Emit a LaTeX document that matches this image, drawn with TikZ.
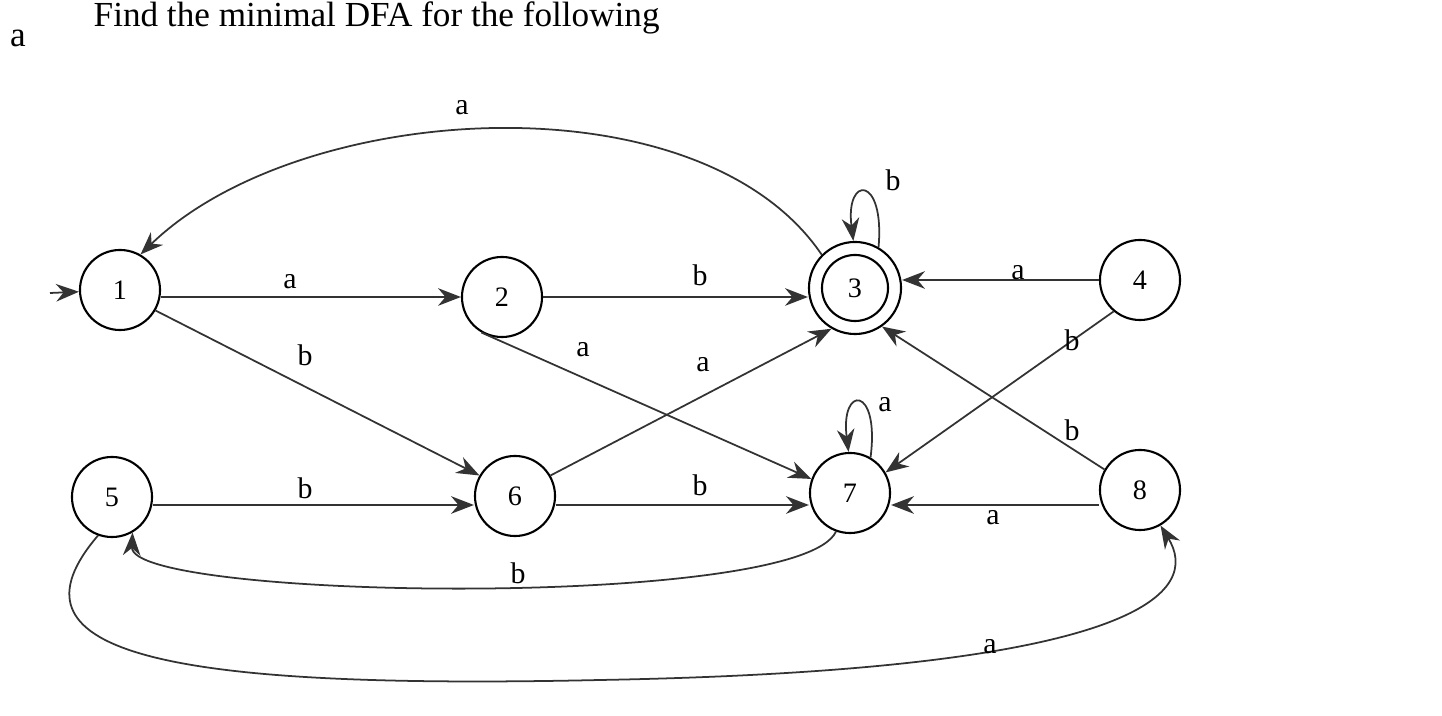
\documentclass[tikz,border=0pt]{standalone}
\usepackage{fontspec}
\setmainfont{Liberation Serif}
\usetikzlibrary{arrows.meta}
\begin{document}
\begin{tikzpicture}[x=0.01cm,y=-0.01cm,
  st/.style={circle,draw,line width=0.6pt,minimum size=0.8cm,inner sep=0pt,font=\fontsize{8}{9}\selectfont},
  ed/.style={draw,black!80,line width=0.5pt,-{Stealth[length=6.5pt,width=5pt]}},
  lb/.style={font=\fontsize{8.5}{10}\selectfont}]
\useasboundingbox (0,0) rectangle (1442,716);
\node[anchor=west,inner sep=0pt,font=\fontsize{10}{12}\selectfont] (title) at (93,18) {Find the minimal DFA for the following};
\node[font=\fontsize{10}{12}\selectfont] (lab) at (18,38) {a};
\node[st] (s1) at (120,290) {1};
\node[st] (s2) at (502,297) {2};
\node[st,minimum size=0.66cm] (s3) at (855,288) {3};
\node[circle,draw,line width=0.6pt,minimum size=0.92cm,inner sep=0pt] (s3o) at (855,288) {};
\node[st] (s4) at (1140,280) {4};
\node[st] (s5) at (112,497) {5};
\node[st] (s6) at (515,496) {6};
\node[st] (s7) at (850,493) {7};
\node[st] (s8) at (1140,490) {8};
\coordinate (st0) at (50,293);
\draw[ed] (st0) -- (s1);
\draw[ed] (s3o.135) .. controls (700,75) and (300,100) .. (s1.60);
\draw[ed] (s1.east |- 0,297) -- (s2.west |- 0,297);
\draw[ed] (s2.east) -- (s3o.west |- s2.east);
\draw[ed] (s3o.60) .. controls (885,175) and (845,175) .. (s3o.92);
\draw[ed] (s4.west) -- (s3o.east |- s4.west);
\draw[ed] (s1.-30) -- (s6.150);
\draw[ed] (s2.-120) -- (s7.160);
\draw[ed] (s6.30) -- (s3o.-120);
\draw[ed] (s4.-130) -- (s7.30);
\draw[ed] (s8.150) -- (s3o.-55);
\draw[ed] (s7.60) .. controls (880,385) and (840,385) .. (s7.92);
\draw[ed] (s5.east |- 0,505) -- (s6.west |- 0,505);
\draw[ed] (s6.east |- 0,505) -- (s7.west |- 0,505);
\draw[ed] (s8.west |- 0,505) -- (s7.east |- 0,505);
\draw[ed] (s7.-110) .. controls (800,610) and (130,600) .. (s5.-60);
\draw[ed] (s5.-110) .. controls (0,650) and (150,690) .. (600,680) .. controls (1150,670) and (1200,590) .. (s8.-60);
\node[lb] (l1) at (462,108) {a};
\node[lb] (l2) at (290,282) {a};
\node[lb] (l3) at (700,275) {b};
\node[lb] (l4) at (893,180) {b};
\node[lb] (l5) at (1018,273) {a};
\node[lb] (l6) at (305,355) {b};
\node[lb] (l7) at (583,350) {a};
\node[lb] (l8) at (703,365) {a};
\node[lb] (l9) at (1072,340) {b};
\node[lb] (l10) at (1072,430) {b};
\node[lb] (l11) at (885,405) {a};
\node[lb] (l12) at (305,488) {b};
\node[lb] (l13) at (700,485) {b};
\node[lb] (l14) at (993,518) {a};
\node[lb] (l15) at (518,573) {b};
\node[lb] (l16) at (990,647) {a};
\end{tikzpicture}
\end{document}
